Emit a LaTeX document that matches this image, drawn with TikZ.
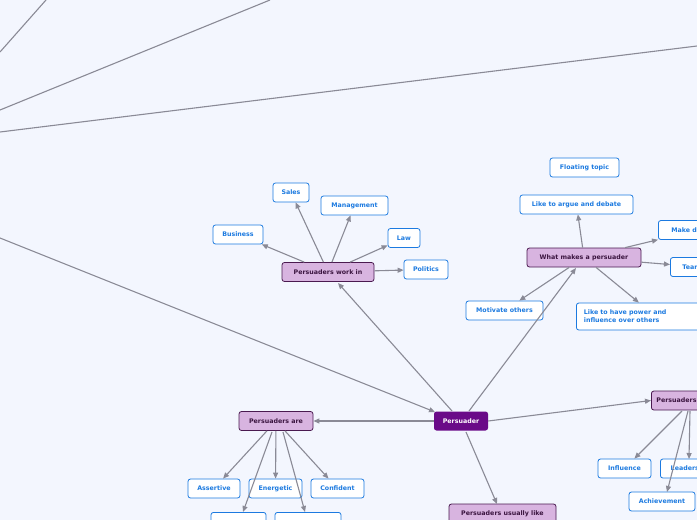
\documentclass[tikz,border=0pt]{standalone}
\usepackage{fontspec}
\setmainfont{DejaVu Sans}
\usetikzlibrary{arrows.meta}
\definecolor{bg}{HTML}{F3F6FE}
\definecolor{edge}{HTML}{8A8A96}
\definecolor{tblue}{HTML}{1C7AE0}
\definecolor{mfill}{HTML}{D8B4E0}
\definecolor{mdraw}{HTML}{4A1A50}
\definecolor{rootc}{HTML}{6A0A88}
\tikzset{
  base/.style={rounded corners=2.5pt,font=\bfseries\fontsize{6.3}{7.8}\selectfont,minimum height=19pt,inner sep=1pt,align=left},
  leaf/.style={base,draw=tblue,fill=white,text=tblue,line width=0.8pt,minimum width=#1},
  mid/.style={base,draw=mdraw,fill=mfill,text=mdraw!80!black,line width=0.8pt,minimum width=#1},
  root/.style={base,fill=rootc,text=white,minimum width=#1},
  con/.style={draw=edge,line width=1.1pt,-{Triangle[length=6pt,width=5pt]}},
  pl/.style={draw=edge,line width=1.1pt}
}
\begin{document}
\begin{tikzpicture}[x=1pt,y=-1pt]
\useasboundingbox (0,0) rectangle (697,520);
\fill[bg] (0,0) rectangle (697,520);
\clip (0,0) rectangle (697,520);
\node[root=54pt] (p) at (461,421) {Persuader};
\node[mid=74pt] (are) at (276,421) {Persuaders are};
\node[mid=92pt] (work) at (328,272) {Persuaders work in};
\node[mid=114pt] (what) at (584,257.5) {What makes a persuader};
\node[mid=107pt,minimum height=20pt] (like) at (502.5,514) {Persuaders usually like};
\node[mid=70pt,anchor=west] (want) at (651,400.5) {Persuaders want};
\node[leaf=69pt] (float) at (584.5,167.5) {Floating topic};
\node[leaf=113pt] (argue) at (576.5,204.5) {Like to argue and debate};
\node[leaf=80pt,anchor=west] (dec) at (658,230) {Make decisions};
\node[leaf=60pt,anchor=west] (team) at (670,267) {Teamwork};
\node[leaf=77pt] (mot) at (504.5,310.5) {Motivate others};
\node[leaf=125pt,minimum height=27pt,anchor=west,text width=110pt,inner xsep=7pt] (pow) at (576,316.5) {Like to have power and\\influence over others};
\node[leaf=50pt] (bus) at (238,234.5) {Business};
\node[leaf=36pt] (sal) at (291,192.5) {Sales};
\node[leaf=67pt] (man) at (354.5,205.5) {Management};
\node[leaf=32pt] (law) at (404,238) {Law};
\node[leaf=44pt] (pol) at (426,269.5) {Politics};
\node[leaf=52pt] (ass) at (214,488.5) {Assertive};
\node[leaf=53pt] (ene) at (275.5,488.5) {Energetic};
\node[leaf=53pt] (con) at (337.5,488.5) {Confident};
\node[leaf=55pt,anchor=north] (x1) at (238.5,512) {};
\node[leaf=66pt,anchor=north] (x2) at (308,512) {};
\node[leaf=53pt] (inf) at (624.5,468.5) {Influence};
\node[leaf=60pt,anchor=west] (lead) at (660,468.5) {Leadership};
\node[leaf=66pt] (ach) at (662,501.5) {Achievement};
% anchor coordinates
\coordinate (pa) at (452,411); \coordinate (wa) at (338,283);
\coordinate (pb) at (469,411); \coordinate (wb) at (576,268);
\coordinate (pc) at (466,432); \coordinate (lc) at (497,504);
\coordinate (a1) at (272,432); \coordinate (b1) at (243,512);
\coordinate (a2) at (283,432); \coordinate (b2) at (305,512);
\coordinate (w1) at (682,411);
\coordinate (w2) at (690,411); \coordinate (l2) at (689,459);
\coordinate (w3) at (688,411); \coordinate (l3) at (667,492);
\coordinate (lf) at (0,238); \coordinate (pn) at (435,412);
\draw[con] (p) -- (are);
\draw[con] (pa) -- (wa);
\draw[con] (pb) -- (wb);
\draw[con] (p.east) -- (want.west);
\draw[con] (pc) -- (lc);
\draw[con] (lf) -- (pn);
\coordinate (t1a) at (0,52); \coordinate (t1b) at (46,0);
\coordinate (t2a) at (0,110); \coordinate (t2b) at (270,0);
\coordinate (t3a) at (0,132); \coordinate (t3b) at (697,46);
\draw[pl] (t1a) -- (t1b);
\draw[pl] (t2a) -- (t2b);
\draw[pl] (t3a) -- (t3b);
\draw[con] (are) -- (ass);
\draw[con] (are) -- (ene);
\draw[con] (are) -- (con);
\draw[con] (a1) -- (b1);
\draw[con] (a2) -- (b2);
\draw[con] (work) -- (bus);
\draw[con] (work) -- (sal);
\draw[con] (work) -- (man);
\draw[con] (work) -- (law);
\draw[con] (work) -- (pol);
\draw[con] (what) -- (argue);
\draw[con] (what) -- (dec);
\draw[con] (what) -- (team);
\draw[con] (what) -- (mot);
\draw[con] (what) -- (pow.north);
\draw[con] (w1) -- (inf);
\draw[con] (w2) -- (l2);
\draw[con] (w3) -- (l3);
\end{tikzpicture}
\end{document}
